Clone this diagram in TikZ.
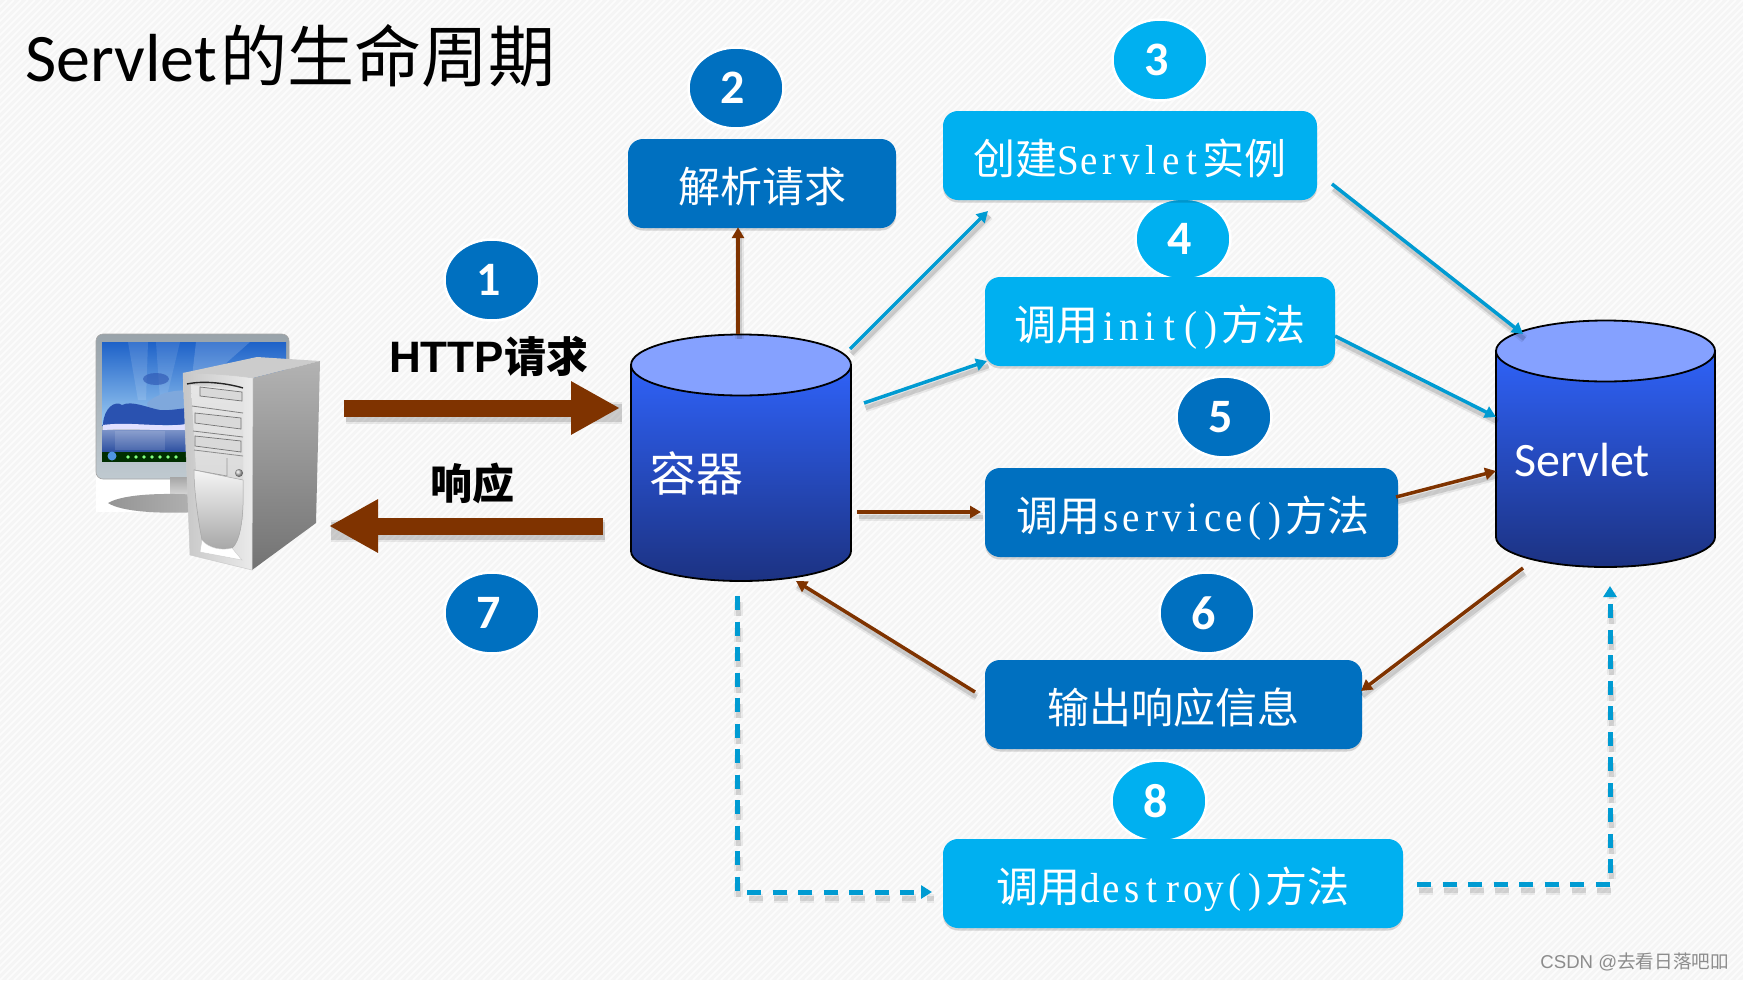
\documentclass[tikz,border=0pt]{standalone}
\usepackage{fontspec}
\setmainfont{Carlito}
\newfontfamily\cjk{Noto Sans CJK SC}
\newfontfamily\arialish{Liberation Sans}
\newfontfamily\halfserif[FakeStretch=0.93]{Liberation Serif}
\usetikzlibrary{arrows.meta,shadows,calc,shapes.geometric}
\definecolor{boxdark}{HTML}{0070C0}
\definecolor{boxlight}{HTML}{00B0F0}
\definecolor{brownline}{HTML}{7F3300}
\definecolor{blueline}{HTML}{009BD2}
\definecolor{cyltop}{HTML}{85A1FF}
\definecolor{cylhi}{HTML}{2F62F8}
\definecolor{cyllo}{HTML}{1C3282}
\definecolor{skytop}{HTML}{1E62C8}
\definecolor{skymid}{HTML}{4F95E2}
\definecolor{skylow}{HTML}{9CCBF2}
\definecolor{clouddark}{HTML}{2A52B0}
\definecolor{cloudlight}{HTML}{7FA8DC}
\definecolor{seatop}{HTML}{7C93C8}
\definecolor{sealow}{HTML}{2C4FA0}
\definecolor{framegrey}{HTML}{B4C0C8}
\tikzset{
  x=1pt,y=-1pt,
  softshadow/.style={
    preaction={draw=black,arrows=-,draw opacity=.07,line width={(#1+5)*1pt},transform canvas={xshift=1.5pt,yshift=-5pt}},
    preaction={draw=black,arrows=-,draw opacity=.12,line width={(#1+1)*1pt},transform canvas={xshift=1.5pt,yshift=-5pt}}},
  dashshadow/.style={
    preaction={draw=black,arrows=-,dash pattern=on 14pt off 11.5pt,draw opacity=.06,line width=9pt,transform canvas={xshift=1.5pt,yshift=-6pt}},
    preaction={draw=black,arrows=-,dash pattern=on 14pt off 11.5pt,draw opacity=.10,line width=5pt,transform canvas={xshift=1.5pt,yshift=-6pt}}},
  stepbox/.style={rounded corners=15pt,inner sep=0pt,text=white,font=\cjk\fontsize{42}{42}\selectfont,
    drop shadow={shadow xshift=0pt,shadow yshift=-2.5pt,fill=black,opacity=.15}},
  darkbox/.style={stepbox,fill=boxdark},
  lightbox/.style={stepbox,fill=boxlight},
  badge/.style={ellipse,draw=white,line width=2.5pt,inner sep=0pt,text=white,minimum width=95pt,minimum height=81pt,
    font=\bfseries\fontsize{48}{48}\selectfont},
  darkbadge/.style={badge,fill=boxdark},
  lightbadge/.style={badge,fill=boxlight},
  thinbrown/.style={draw=brownline,line width=3.5pt,-{Triangle[length=11pt,width=12pt]},softshadow=3.5},
  thinblue/.style={draw=blueline,line width=3.5pt,-{Triangle[length=11pt,width=12pt]},softshadow=3.5},
  dashblue/.style={draw=blueline,line width=5pt,dash pattern=on 14pt off 11.5pt,-{Triangle[length=11pt,width=13pt]},dashshadow},
  bigbrown/.style={draw=brownline,line width=17pt,-{Triangle[length=49pt,width=50pt]},softshadow=17},
  cyllabel/.style={text=white,inner sep=0pt,anchor=west},
  boldlabel/.style={text=black,inner sep=0pt},
}
% half-width Latin letters: every letter sits in a cell of half the CJK width
\newcommand{\cellloop}[1]{\ifx#1\relax\else\makebox[20.6pt]{#1}\expandafter\cellloop\fi}
\newcommand{\mono}[1]{{\halfserif\fontsize{42}{42}\selectfont\cellloop #1\relax}}
\newcommand{\dg}[1]{\hspace*{-6pt}#1}
\newcommand{\boxtext}[1]{\raisebox{-19pt}[0pt][0pt]{#1}}
\newcommand{\drawcyl}[4]{% left x, right x, top centre y, bottom centre y
  \pgfmathsetmacro{\rxx}{(#2-#1)/2}
  \pgfmathsetmacro{\cxx}{(#1+#2)/2}
  \shade[top color=cylhi,bottom color=cyllo,draw=black,line width=1.8pt]
    (#1,#3) -- (#1,#4) arc[start angle=180,end angle=360,x radius=\rxx pt,y radius=30pt] -- (#2,#3) -- cycle;
  \draw[fill=cyltop,draw=black,line width=1.8pt] (\cxx,#3) ellipse[x radius=\rxx pt,y radius=30.5pt];
}
\begin{document}
\begin{tikzpicture}
\useasboundingbox (0,0) rectangle (1743,980);
% background
\fill[black!4] (0,0) rectangle (1743,980);
\begin{scope}
\clip (0,0) rectangle (1743,980);
\foreach \i in {0,7,...,2730} {\draw[white,line width=1.7pt,opacity=.75] (\i,0) -- (\i-980,980);}
\end{scope}
% computer: monitor
\fill[white] (96,470) rectangle (172,512);
\shade[top color=framegrey!85!black,bottom color=framegrey!85!white,rounded corners=7pt,draw=black!35,line width=.6pt] (96,334) rectangle (289,479);
\shade[top color=black!35,bottom color=black!15] (170,477) rectangle (192,496);
\shade[left color=black!42,right color=black!30] (108,503) .. controls (125,493) and (170,493) .. (200,495) -- (200,512) .. controls (160,514) and (122,512) .. (108,503) -- cycle;
\shade[top color=skytop,middle color=skymid,bottom color=skylow] (102,342) rectangle (286,425);
\fill[white,opacity=.12] (128,342) -- (148,342) -- (146,400) -- (138,400) -- cycle;
\fill[white,opacity=.10] (156,342) -- (180,342) -- (166,400) -- (160,400) -- cycle;
\fill[white,opacity=.16] (196,342) -- (250,342) -- (190,395) -- cycle;
\fill[clouddark,opacity=.6] (156,379) ellipse[x radius=13pt,y radius=6pt];
\fill[cloudlight] (147,403) .. controls (158,392) and (180,389) .. (190,391) -- (190,420) -- (150,418) -- cycle;
\fill[clouddark] (103,424) .. controls (104,408) and (115,400) .. (122,405) .. controls (132,400) and (148,408) .. (160,410) .. controls (170,411) and (182,408) .. (190,408) -- (190,425) -- (102,426) -- cycle;
\fill[white!88!blue] (103,425) .. controls (130,421) and (170,429) .. (190,423) -- (190,430) .. controls (160,431) and (130,428) .. (103,430) -- cycle;
\shade[top color=seatop,bottom color=sealow] (102,430) rectangle (190,452);
\fill[white,opacity=.12] (115,431) rectangle (165,450);
\fill[black!82!green] (102,452) rectangle (286,462);
\fill[skymid] (112,456) circle[radius=4.5pt];
\foreach \i in {128,136,144,152,160,168,176} {\fill[white!50!green] (\i,457) circle[radius=1.8pt];}
% computer: tower
\fill[black!20] (183,373) -- (257,357) -- (320,361) -- (253,378) -- cycle;
\shade[top color=black!30,bottom color=black!55] (253,378) -- (320,361) -- (316,523) -- (252,570) -- cycle;
\shade[left color=black!22,right color=black!8,draw=black!20,line width=.5pt] (183,373) .. controls (210,373) and (240,376) .. (253,378) -- (252,570) -- (190,555) -- cycle;
\draw[black!85,line width=1.4pt] (187,384) .. controls (205,380) and (230,384) .. (243,388);
\shade[top color=black!10,bottom color=black!16] (191,385) -- (243,389) -- (243,520) -- (198,505) -- cycle;
\fill[black!15,draw=black!55,line width=.7pt] (200,387) -- (242,392) -- (242,401) -- (200,396) -- cycle;
\draw[black!50,line width=.8pt] (192,406) -- (243,413);
\fill[black!15,draw=black!55,line width=.7pt] (195,413) -- (241,418) -- (241,429) -- (195,423) -- cycle;
\draw[black!50,line width=.8pt] (193,431) -- (243,437);
\fill[black!15,draw=black!55,line width=.7pt] (195,436) -- (241,441) -- (241,452) -- (195,446) -- cycle;
\draw[black!45,line width=.8pt] (194,450) -- (243,456);
\draw[black!40,line width=.7pt] (227,458) -- (227,476) -- (194,470);
\shade[ball color=black!25] (239,473) circle[radius=4pt];
\shade[top color=black!4,bottom color=black!35,draw=black!35,line width=.5pt] (194,470) -- (243,480) .. controls (244,510) and (242,540) .. (232,548) .. controls (222,551) and (208,548) .. (202,540) .. controls (198,520) and (194,490) .. (194,470) -- cycle;
\fill[white,draw=black!20,line width=.4pt] (202,540) .. controls (208,548) and (222,551) .. (232,548) -- (242,560) -- (200,552) -- cycle;
% title
\node[inner sep=0pt,anchor=west] (title) at (25,56) {\fontsize{68}{68}\selectfont Servlet\kern3pt\cjk\fontsize{67}{67}\selectfont 的生命周期};
% badges
\node[darkbadge] (b1) at (492,280) {\dg{1}};
\node[darkbadge] (b2) at (736,88) {\dg{2}};
\node[lightbadge] (b3) at (1160,60) {\dg{3}};
\node[lightbadge] (b4) at (1183,239) {\dg{4}};
\node[darkbadge] (b5) at (1224,417) {\dg{5}};
\node[darkbadge] (b6) at (1207,613) {\dg{6}};
\node[darkbadge] (b7) at (492,613) {\dg{7}};
\node[lightbadge] (b8) at (1159,801) {\dg{8}};
% step boxes
\node[darkbox,minimum width=268pt,minimum height=89pt] (parse) at (762,183.5) {\boxtext{解析请求}};
\node[lightbox,minimum width=374pt,minimum height=89pt] (create) at (1130,155.5) {\boxtext{创建\mono{Servlet}实例}};
\node[lightbox,minimum width=350pt,minimum height=89pt] (init) at (1160,321.5) {\boxtext{调用\mono{init()}方法}};
\node[darkbox,minimum width=413pt,minimum height=89pt] (service) at (1191.5,512.5) {\boxtext{\hspace{3pt}调用\mono{service()}方法}};
\node[darkbox,minimum width=377pt,minimum height=89pt] (output) at (1173.5,704.5) {\boxtext{输出响应信息}};
\node[lightbox,minimum width=460pt,minimum height=89pt] (destroy) at (1173,883.5) {\boxtext{调用\mono{destroy()}方法}};
% cylinders
\drawcyl{631}{851}{365}{551}
\drawcyl{1496}{1715}{351}{537}
\node[cyllabel] (container) at (649,473) {\cjk\fontsize{47}{47}\selectfont 容器};
\node[cyllabel] (servlet) at (1514,460) {\fontsize{48}{48}\selectfont Servlet};
% labels
\node[boldlabel,anchor=west] (http) at (389,356) {\bfseries\arialish\fontsize{44}{44}\selectfont HTTP\cjk\fontsize{42}{42}\selectfont\bfseries 请求};
\node[boldlabel] (resp) at (472,483) {\cjk\bfseries\fontsize{42}{42}\selectfont 响应};
\node[text=black!45,inner sep=0pt,anchor=east] (mark) at (1729,962) {\arialish\fontsize{18.6}{19}\selectfont CSDN @\cjk 去看日落吧吅};
% connector ends
\coordinate (reqS) at (344,408);
\coordinate (reqE) at (620,408);
\coordinate (respS) at (603,526);
\coordinate (respE) at (329,526);
\coordinate (aS) at (738,334);
\coordinate (aE) at ($(parse.south)+(-24,-1)$);
\coordinate (bS) at (850,349);
\coordinate (bE) at (988,211);
\coordinate (cS) at (864,403);
\coordinate (cE) at (987,361);
\coordinate (dS) at (857,512);
\coordinate (dE) at (981,512);
\coordinate (eS) at (1396,497);
\coordinate (eE) at (1496,471);
\coordinate (fS) at (1332,184);
\coordinate (fE) at (1523,334);
\coordinate (gS) at (1335,336);
\coordinate (gE) at (1496,417);
\coordinate (hS) at (1523,568);
\coordinate (hE) at (1361,691);
\coordinate (iS) at (975,692);
\coordinate (iE) at (796,581);
\coordinate (jS) at (737,596);
\coordinate (jM) at (737,892);
\coordinate (jE) at (932,892);
\coordinate (kS) at (1417,884);
\coordinate (kM) at (1610,884);
\coordinate (kE) at (1610,586);
% connectors
\draw[bigbrown] (reqS) -- (reqE);
\draw[bigbrown] (respS) -- (respE);
\draw[thinbrown] (aS) -- (aE);
\draw[thinblue] (bS) -- (bE);
\draw[thinblue] (cS) -- (cE);
\draw[thinbrown] (dS) -- (dE);
\draw[thinbrown] (eS) -- (eE);
\draw[thinblue] (fS) -- (fE);
\draw[thinblue] (gS) -- (gE);
\draw[thinbrown] (hS) -- (hE);
\draw[thinbrown] (iS) -- (iE);
\draw[dashblue] (jS) -- (jM) -- (jE);
\draw[dashblue] (kS) -- (kM) -- (kE);
\end{tikzpicture}
\end{document}
